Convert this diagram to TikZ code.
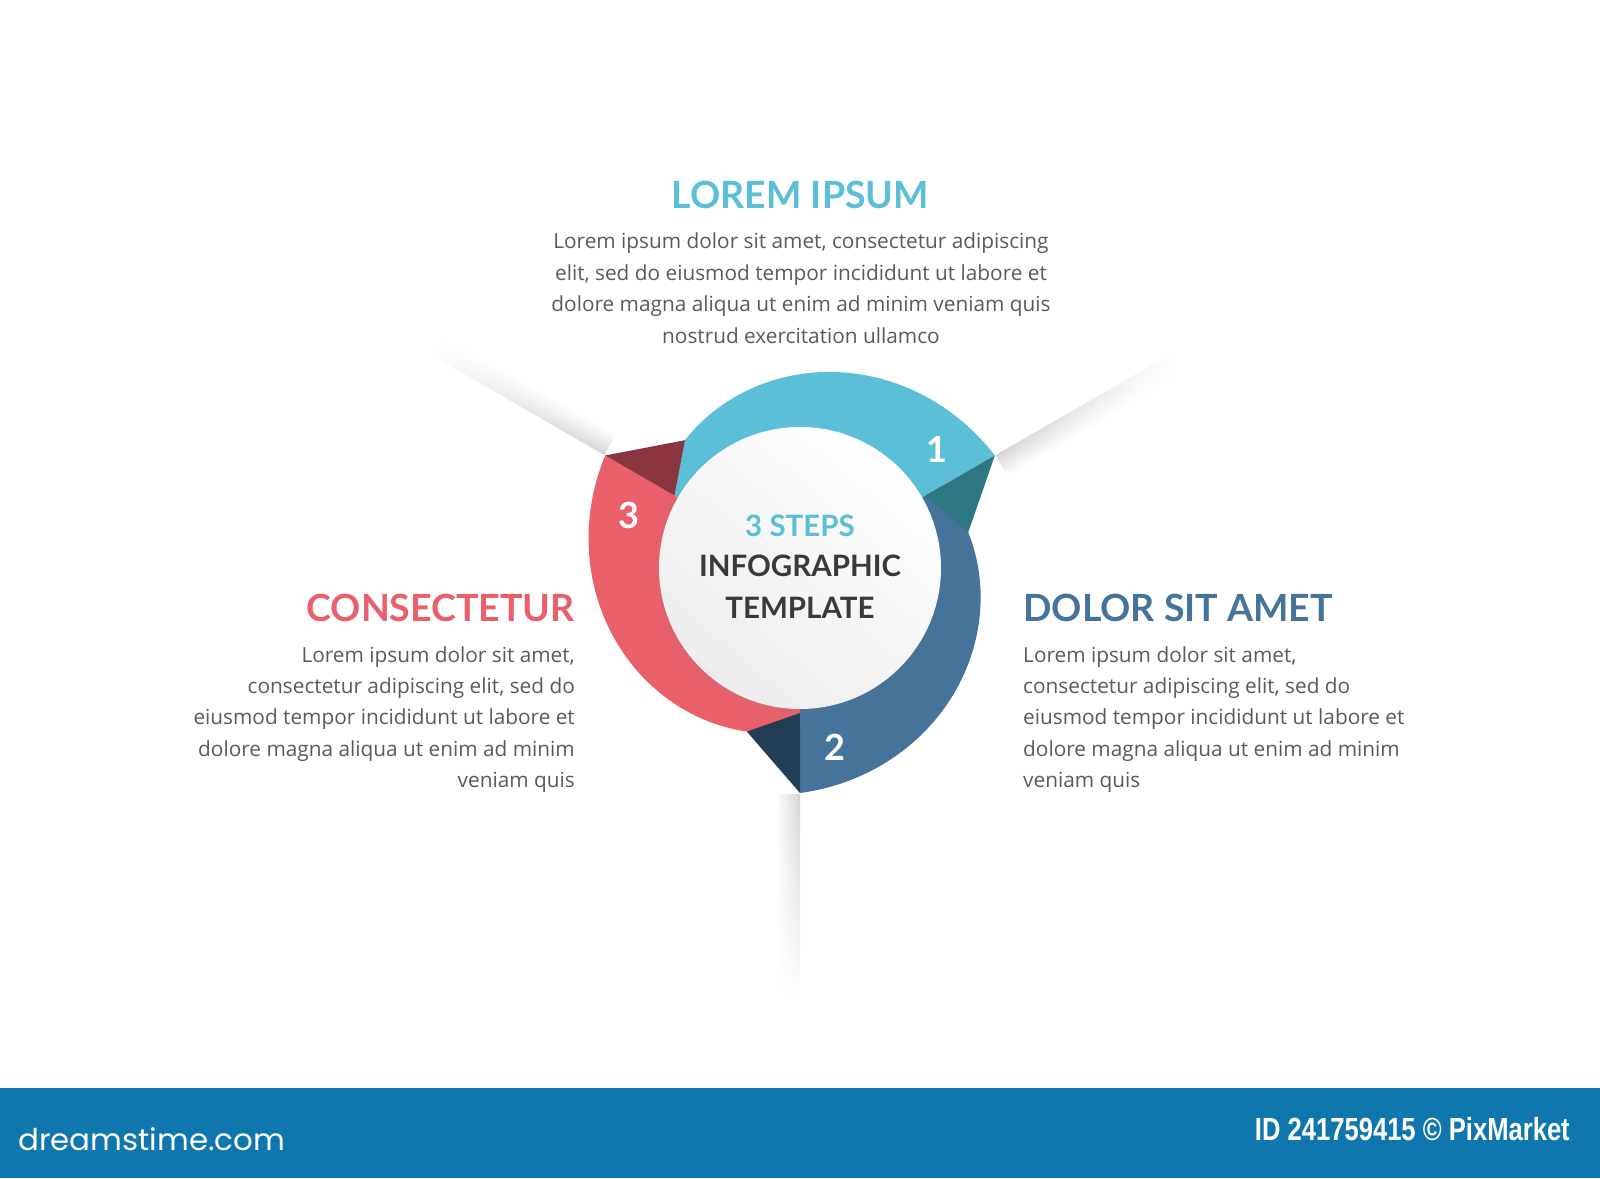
\documentclass[tikz,border=0pt]{standalone}
\usepackage{fontspec}
\setmainfont{Lato}
\newfontfamily\bodyfont{Open Sans}
\newfontfamily\sitefont[FakeStretch=1.03]{Poppins}
\newfontfamily\idfont[FakeStretch=0.8]{Liberation Sans}
\usetikzlibrary{calc,fadings,shadows}
\definecolor{cyanband}{HTML}{5BBFD7}
\definecolor{blueband}{HTML}{46739A}
\definecolor{redband}{HTML}{E9606B}
\definecolor{tealflap}{HTML}{2C7780}
\definecolor{navyflap}{HTML}{213E55}
\definecolor{wineflap}{HTML}{8A3540}
\definecolor{textgray}{HTML}{5A5A5A}
\definecolor{darktext}{HTML}{3A3A3A}
\definecolor{footblue}{HTML}{0F77AE}
\tikzset{
  num/.style={text=white, inner sep=0pt, font=\fontsize{36}{36}\selectfont\bfseries},
  head/.style={inner sep=0pt, font=\fontsize{37.5}{40}\selectfont\bfseries},
  body/.style={inner sep=0pt, text=textgray, font=\bodyfont\fontsize{20.8}{31.4}\selectfont},
  mid/.style={inner sep=0pt, font=\fontsize{29.5}{30}\selectfont\bfseries}
}
\begin{document}
\begin{tikzpicture}[x=1pt, y=1pt]
  \useasboundingbox (0,0) rectangle (1600,1178);
  \coordinate (c) at (800,610);

  % paper creases
  \foreach \a in {30,-90,150}{
    \begin{scope}[transform canvas={rotate around={\a:(c)}}]
      \shade[top color=black!17, bottom color=white, path fading=east]
        ($(c)+(226,-24)$) rectangle ($(c)+(432,0)$);
    \end{scope}
  }

  \begin{scope}[shift={(c)}]
    % ring bands
    \foreach \s/\e/\col in {150/30/cyanband, 30/-90/blueband, 270/150/redband}
      \fill[\col] (0,0) -- plot[domain=\s:\e, samples=60] (\x:{172+53*(\e+102-\x)/102}) -- cycle;
    % folded flaps
    \foreach \e/\col in {30/tealflap, -90/navyflap, 150/wineflap}
      \fill[\col] (\e:225) -- (\e:145) -- ({\e-18}:172) -- cycle;
    % center disc
    \node[circle, minimum size=282pt, inner sep=0pt,
          top color=white, middle color=white, bottom color=black!7, shading angle=-40,
          circular drop shadow={shadow xshift=-3pt, shadow yshift=-4pt, opacity=.25, shadow scale=1.03}]
      (hub) at (0,0) {};
    \node[num] (n1) at (41:181) {1};
    \node[num] (n2) at (-79:183) {2};
    \node[num] (n3) at (163:179) {3};
  \end{scope}

  % center titles
  \node[mid, text=cyanband, anchor=base] (steps) at (800,641) {3 STEPS};
  \node[mid, text=darktext, anchor=base] (info) at (800,601) {INFOGRAPHIC};
  \node[mid, text=darktext, anchor=base] (tmpl) at (800,559.5) {TEMPLATE};

  % step texts
  \node[head, text=cyanband, anchor=base] (h1) at (800.5,969.7) {LOREM IPSUM};
  \node[body, align=center, anchor=north] (b1) at (801,945)
    {Lorem ipsum dolor sit amet, consectetur adipiscing\\
     elit, sed do eiusmod tempor incididunt ut labore et\\
     dolore magna aliqua ut enim ad minim veniam quis\\
     nostrud exercitation ullamco};
  \node[head, text=blueband, anchor=base west] (h2) at (1023,556.3) {DOLOR SIT AMET};
  \node[body, align=left, anchor=north west] (b2) at (1023,532)
    {Lorem ipsum dolor sit amet,\\
     consectetur adipiscing elit, sed do\\
     eiusmod tempor incididunt ut labore et\\
     dolore magna aliqua ut enim ad minim\\
     veniam quis};
  \node[head, text=redband, anchor=base east] (h3) at (575,556.3) {CONSECTETUR};
  \node[body, align=right, anchor=north east] (b3) at (575,532)
    {Lorem ipsum dolor sit amet,\\
     consectetur adipiscing elit, sed do\\
     eiusmod tempor incididunt ut labore et\\
     dolore magna aliqua ut enim ad minim\\
     veniam quis};

  % footer
  \fill[footblue] (0,0) rectangle (1600,90.5);
  \node[anchor=base west, inner sep=0pt, text=white, font=\sitefont\fontsize{30}{30}\selectfont] (site) at (18,27.5) {dreamstime.com};
  \node[anchor=base east, inner sep=0pt, text=white, font=\idfont\bfseries\fontsize{32}{32}\selectfont] (id) at (1570,38) {ID 241759415 © PixMarket};
\end{tikzpicture}
\end{document}
